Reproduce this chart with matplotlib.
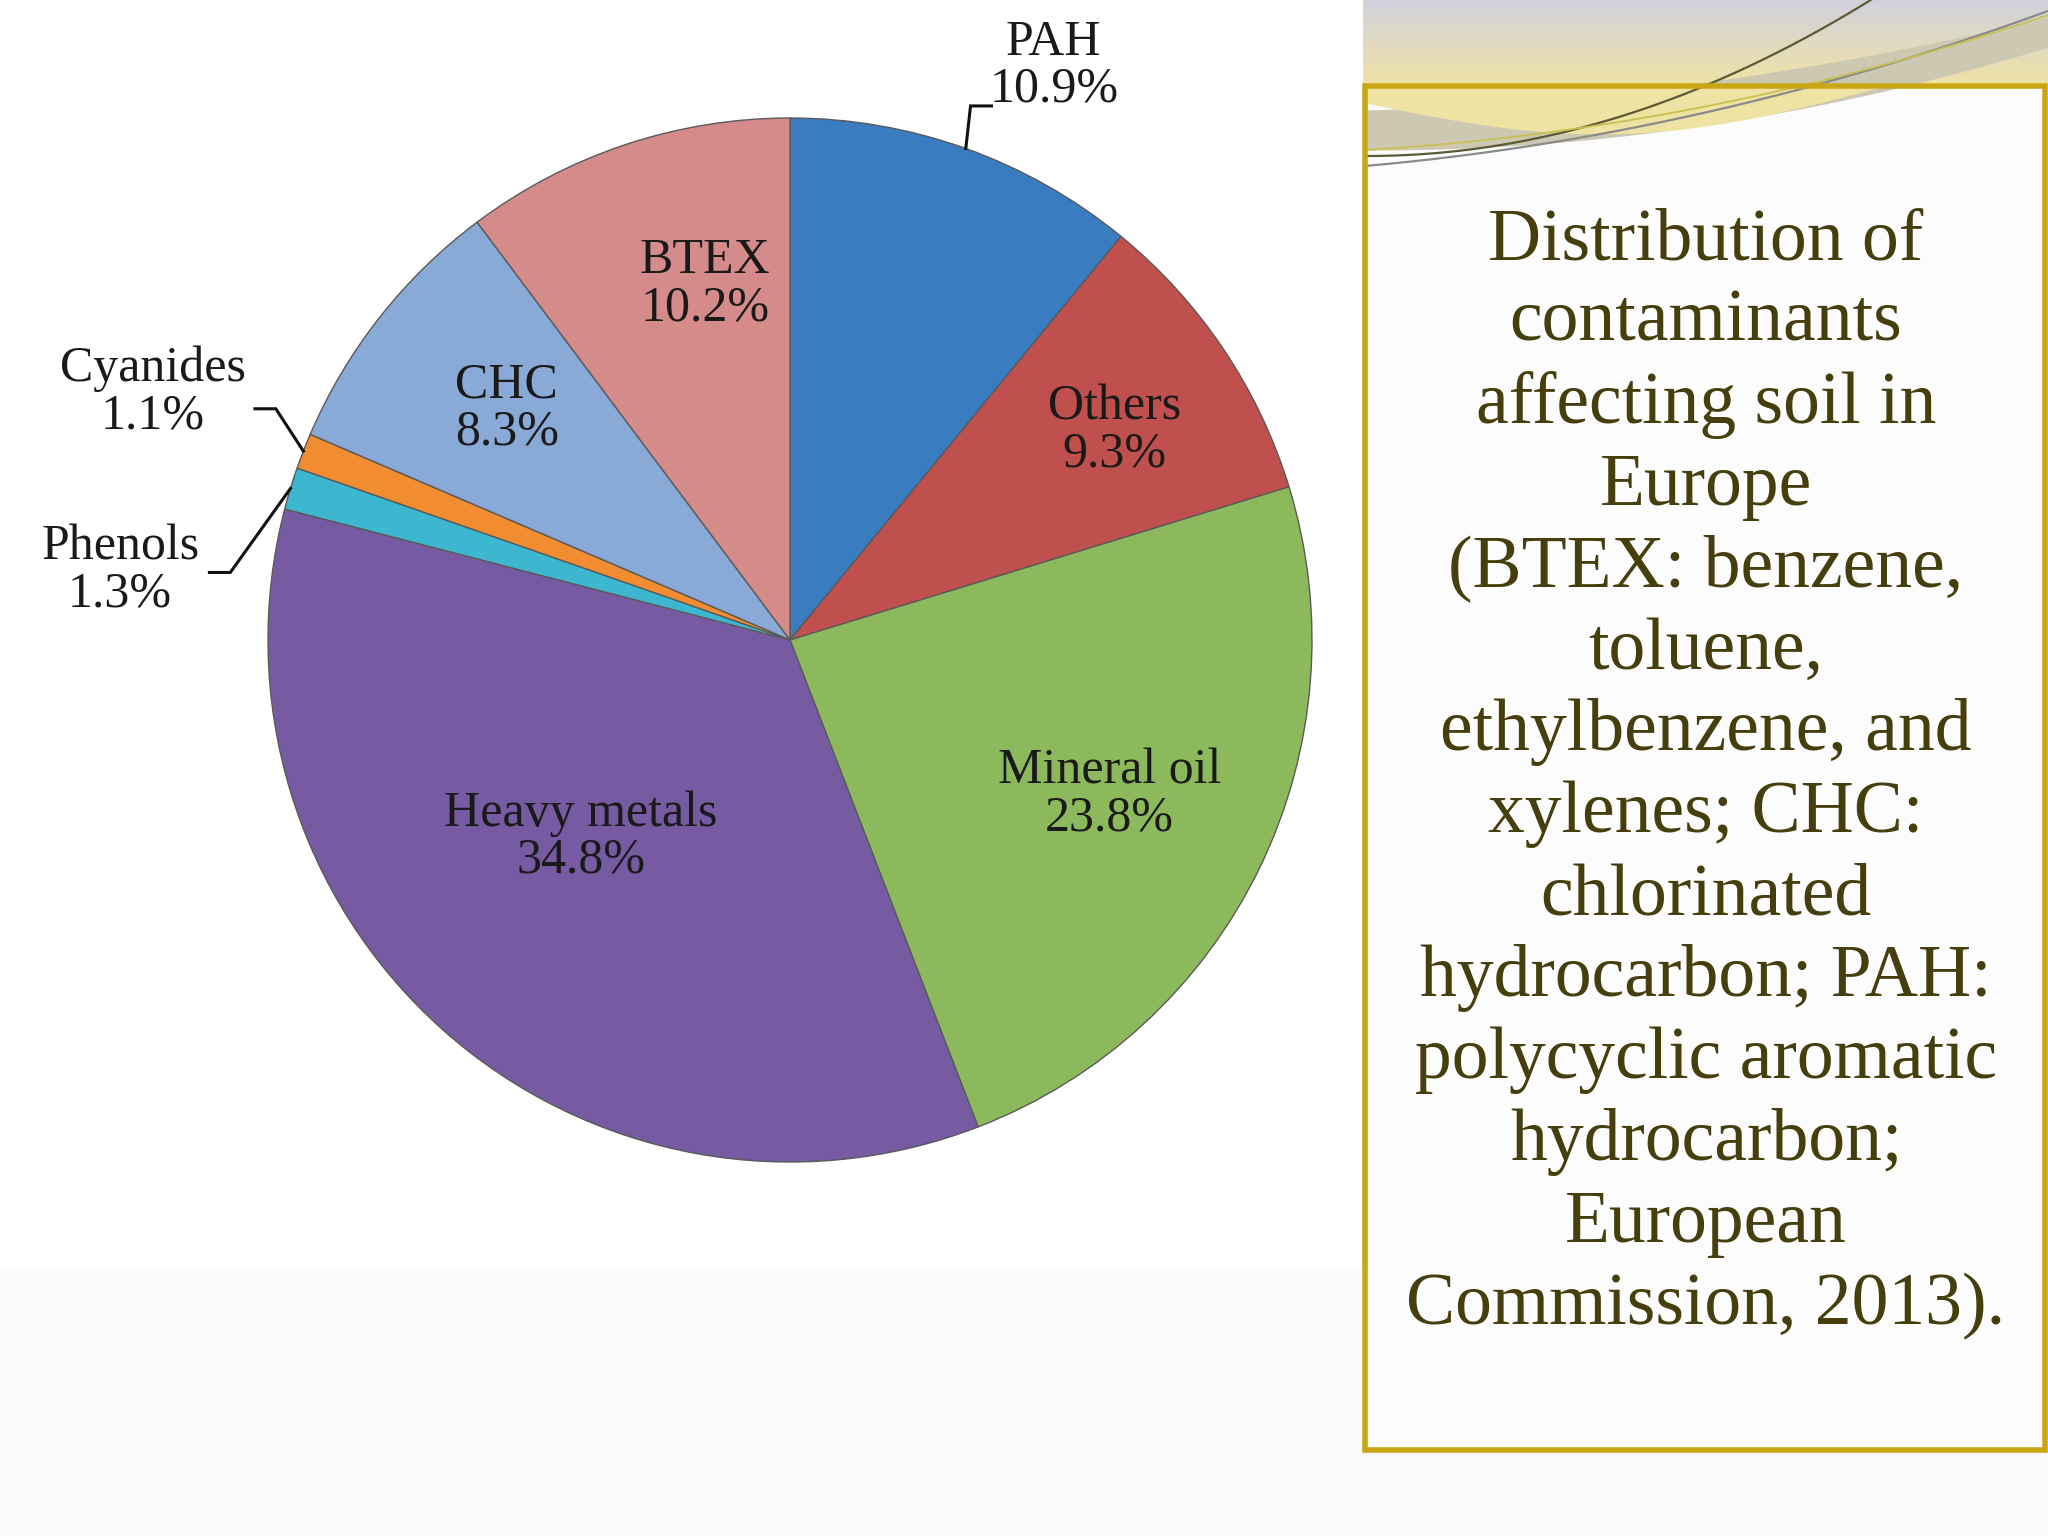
import matplotlib
matplotlib.use('Agg')
import matplotlib.pyplot as plt
import numpy as np
from matplotlib.patches import Rectangle

# pie data, clockwise from 12 o'clock
categories = ['PAH', 'Others', 'Mineral oil', 'Heavy metals',
              'Phenols', 'Cyanides', 'CHC', 'BTEX']
shares = [10.9, 9.3, 23.8, 34.8, 1.3, 1.1, 8.3, 10.2]
colors = ['#3a7cc0', '#c0504d', '#8cb95c', '#765aa2',
          '#3cb7cf', '#f28c30', '#89a9d6', '#d68b8b']

# label placement (radius in pie units, angle nudge in degrees)
label_r = [1.21, 0.74, 0.68, 0.55, 1.29, 1.31, 0.70, 0.70]
label_turn = [-5, -1, 0, -5, 11, 0, -1, -5]
outside = ['PAH', 'Cyanides', 'Phenols']
elbow_turn = {'PAH': 1, 'Cyanides': -3, 'Phenols': 10}

caption = ['Distribution of', 'contaminants', 'affecting soil in', 'Europe',
           '(BTEX: benzene,', 'toluene,', 'ethylbenzene, and',
           'xylenes; CHC:', 'chlorinated', 'hydrocarbon; PAH:',
           'polycyclic aromatic', 'hydrocarbon;', 'European',
           'Commission, 2013).']

W, H = 2048, 1536
fig = plt.figure(figsize=(W / 100, H / 100), dpi=100, facecolor='#fafafa')

# white area behind the chart picture
fig.add_artist(Rectangle((0, 1 - 1268 / H), 1363 / W, 1268 / H,
                         transform=fig.transFigure, facecolor='white',
                         edgecolor='none', zorder=-5))

# ---- pie ----
R = 522
cx, cy = 790, 640
half = 1.55
side = 2 * half * R
ax = fig.add_axes([(cx - side / 2) / W, (H - cy - side / 2) / H, side / W, side / H])
ax.patch.set_alpha(0)

wedges, _ = ax.pie(shares, colors=colors, startangle=90, counterclock=False,
                   radius=1.0, wedgeprops=dict(edgecolor='#5a5a5a', linewidth=1.0))
ax.set_xlim(-half, half)
ax.set_ylim(-half, half)
ax.set_aspect('equal')
ax.axis('off')

serif = ['Liberation Serif', 'DejaVu Serif']
for w, name, val, r, turn in zip(wedges, categories, shares, label_r, label_turn):
    mid = (w.theta1 + w.theta2) / 2
    a = np.deg2rad(mid + turn)
    ax.text(r * np.cos(a), r * np.sin(a), f'{name}\n{val:.1f}%',
            ha='center', va='center', fontsize=36, family=serif,
            color='#1a1a1a', linespacing=1.02)
    if name in outside:
        a0 = np.deg2rad(mid)
        a1 = np.deg2rad(mid + elbow_turn[name])
        p0 = (np.cos(a0), np.sin(a0))
        p1 = (1.08 * np.cos(a1), 1.08 * np.sin(a1))
        stub = 0.04 if p1[0] > 0 else -0.04
        ax.plot([p0[0], p1[0], p1[0] + stub], [p0[1], p1[1], p1[1]],
                color='#111111', lw=2.2, solid_joinstyle='miter')

# ---- right panel ----
bx0, bx1, by0, by1 = 1365, 2045, 86, 1450
fig.add_artist(Rectangle((bx0 / W, 1 - by1 / H), (bx1 - bx0) / W, (by1 - by0) / H,
                         transform=fig.transFigure, facecolor='#fcfcfc',
                         edgecolor='none', zorder=-4))

# decorative header swoosh
dx = fig.add_axes([1363 / W, 1 - 200 / H, (W - 1363) / W, 200 / H])
dx.set_xlim(1363, W)
dx.set_ylim(200, 0)
dx.axis('off')
dx.patch.set_alpha(0)
grad = np.linspace(0, 1, 100)[:, None]
top_c = np.array([0.82, 0.82, 0.87])
bot_c = np.array([0.94, 0.89, 0.64])
img = top_c + (bot_c - top_c) * grad
dx.imshow(np.repeat(img[:, None, :], 2, axis=1), extent=[1363, W, 86, 0],
          aspect='auto', zorder=1)
xs = np.linspace(1365, W, 300)
t = (xs - 1365) / (W - 1365)
g_low = 150 + 2.9 * t - 105.9 * t ** 2
g_up = 110 - 20 * t - 73 * t ** 2
dx.fill_between(xs, g_up, g_low, color='#cdc8b2', zorder=2, lw=0)
tm = t <= 0.75
y_low = 88 + 15 * (1 - t[tm] / 0.75) + 38 * np.sin(np.pi * t[tm] / 0.75)
dx.fill_between(xs[tm], 86, y_low, color='#efe3a4', zorder=3, lw=0)
dx.plot(xs, 156 + 1.8 * t - 287 * t ** 2, color='#5b5a34', lw=1.6, zorder=4)
dx.plot(xs, 166 - 60 * t - 95 * t ** 2, color='#8a8a8a', lw=1.6, zorder=4)
dx.plot(xs, 150 - 40 * t - 95 * t ** 2, color='#c8c050', lw=1.3, zorder=4)

fig.add_artist(Rectangle((bx0 / W, 1 - by1 / H), (bx1 - bx0) / W, (by1 - by0) / H,
                         transform=fig.transFigure, facecolor='none',
                         edgecolor='#c9a714', linewidth=4, zorder=10))

for i, line in enumerate(caption):
    fig.text(1706 / W, 1 - (259 + i * 81.9) / H, line, ha='center', va='baseline',
             fontsize=53, family=serif, color='#463e0c', zorder=11)

fig.savefig('out.png', dpi=100, facecolor=fig.get_facecolor())
